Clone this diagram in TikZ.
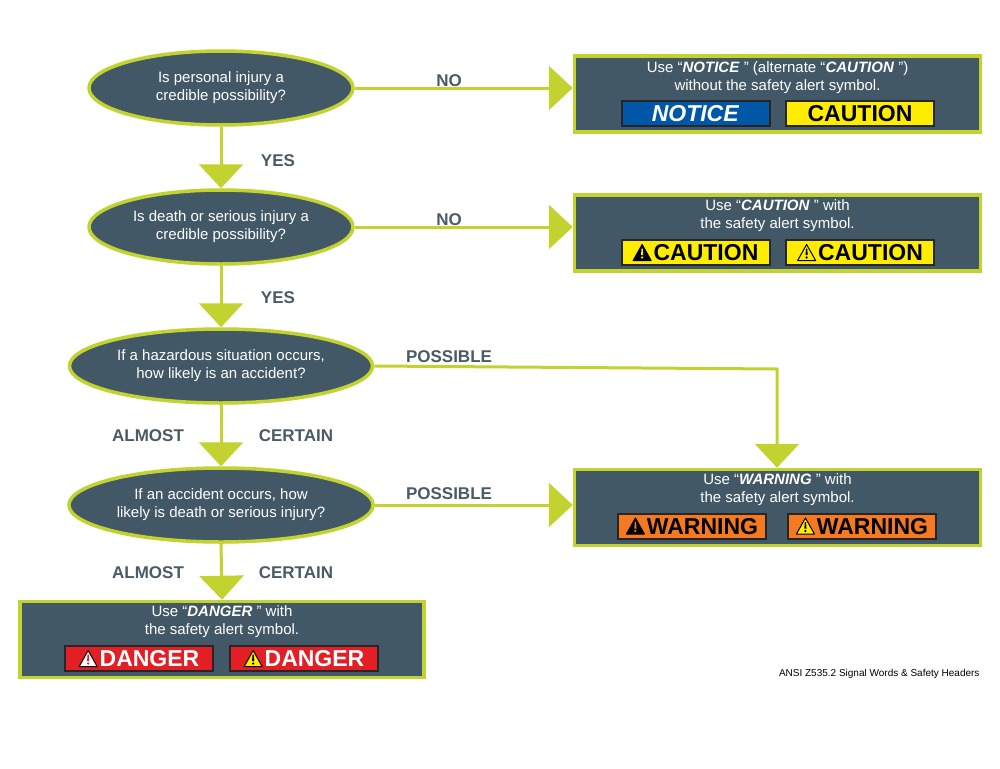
\documentclass[tikz,border=0pt]{standalone}
\usepackage{fontspec}
\setmainfont{Liberation Sans}
\usetikzlibrary{arrows.meta,shapes.geometric}
\definecolor{slate}{HTML}{425866}
\definecolor{lime}{HTML}{C2D22E}
\definecolor{labelgray}{HTML}{4A5B66}
\definecolor{noticeblue}{HTML}{0057A8}
\definecolor{cautionyellow}{HTML}{FFED00}
\definecolor{warnorange}{HTML}{F47920}
\definecolor{dangerred}{HTML}{E31E24}
\newcommand\alertsym[3]{\tikz[baseline=0pt]{\filldraw[fill=#1,draw=#2,line width=1pt,line join=round] (0pt,0pt)--(18pt,0pt)--(9pt,16pt)--cycle;
  \fill[#3] (7.9pt,5.5pt)--(10.1pt,5.5pt)--(9.6pt,12pt)--(8.4pt,12pt)--cycle;
  \fill[#3] (9pt,3pt) circle (1.3pt);}\kern2pt}
\tikzset{
  question/.style={ellipse,draw=lime,line width=3.5pt,fill=slate,text=white,minimum width=264,minimum height=74,align=center,font=\fontsize{15}{18}\selectfont},
  outcome/.style={rectangle,draw=lime,line width=3.5pt,fill=slate,minimum height=76},
  intext/.style={text=white,align=center,font=\fontsize{15}{18}\selectfont},
  sig/.style={rectangle,draw=black!85,line width=2pt,minimum width=148,minimum height=25,inner sep=0pt,font=\fontsize{23}{24}\selectfont\bfseries},
  flow/.style={lime,line width=3pt,-{Triangle[length=24pt,width=44pt]}},
  answer/.style={text=labelgray,font=\fontsize{17}{20}\selectfont\bfseries}
}
\begin{document}
\begin{tikzpicture}[x=1pt,y=-1pt]
  \useasboundingbox[fill=white] (0,0) rectangle (1000,768);
  % questions
  \node[question] (q1) at (221,88) {Is personal injury a\\credible possibility?};
  \node[question] (q2) at (221,227) {Is death or serious injury a\\credible possibility?};
  \node[question] (q3) at (221,366) {If a hazardous situation occurs,\\how likely is an accident?};
  \node[question] (q4) at (221,505) {If an accident occurs, how\\likely is death or serious injury?};
  % outcome boxes
  \node[outcome,minimum width=406] (notice) at (777.5,94) {};
  \node[outcome,minimum width=406] (caution) at (777.5,233) {};
  \node[outcome,minimum width=406] (warning) at (777.5,507.5) {};
  \node[outcome,minimum width=404] (danger) at (222,639.5) {};
  \node[intext] at (777.5,78) {Use “\textbf{\textit{NOTICE}} ” (alternate “\textbf{\textit{CAUTION}} ”)\\without the safety alert symbol.};
  \node[intext] at (777.5,216) {Use “\textbf{\textit{CAUTION}} ” with\\the safety alert symbol.};
  \node[intext] at (777.5,490) {Use “\textbf{\textit{WARNING}} ” with\\the safety alert symbol.};
  \node[intext] at (222,622) {Use “\textbf{\textit{DANGER}} ” with\\the safety alert symbol.};
  % signal headers
  \node[sig,fill=noticeblue,text=white] (n1) at (695.5,113.5) {\textit{NOTICE}};
  \node[sig,fill=cautionyellow,text=black] (c0) at (860,113.5) {CAUTION};
  \node[sig,fill=cautionyellow,text=black] (c1) at (695.5,252.5) {\alertsym{black}{black}{cautionyellow}CAUTION};
  \node[sig,fill=cautionyellow,text=black] (c2) at (860,252.5) {\alertsym{cautionyellow}{black}{black}CAUTION};
  \node[sig,fill=warnorange,text=black] (w1) at (692,526) {\alertsym{black}{black}{warnorange}WARNING};
  \node[sig,fill=warnorange,text=black] (w2) at (862,526) {\alertsym{cautionyellow}{black}{black}WARNING};
  \node[sig,fill=dangerred,text=white] (d1) at (139,658.5) {\alertsym{white}{black}{dangerred}DANGER};
  \node[sig,fill=dangerred,text=white] (d2) at (304,658.5) {\alertsym{cautionyellow}{black}{black}DANGER};
  % connectors
  \coordinate (p3) at (777,369);
  \draw[flow] (q1.east) -- (q1.east -| notice.west);
  \draw[flow] (q2.east) -- (q2.east -| caution.west);
  \draw[flow] (q3.east) -- (p3) -- (warning.north -| p3);
  \draw[flow] (q4.east) -- (q4.east -| warning.west);
  \draw[flow] (q1.south) -- (q2.north);
  \draw[flow] (q2.south) -- (q3.north);
  \draw[flow] (q3.south) -- (q4.north);
  \draw[flow] (q4.south) -- (danger.north);
  % answers
  \node[answer] at (449,81) {NO};
  \node[answer] at (449,220) {NO};
  \node[answer] at (449,357) {POSSIBLE};
  \node[answer] at (449,494) {POSSIBLE};
  \node[answer] at (278,161) {YES};
  \node[answer] at (278,298) {YES};
  \node[answer] at (148,436) {ALMOST};
  \node[answer] at (296,436) {CERTAIN};
  \node[answer] at (148,573) {ALMOST};
  \node[answer] at (296,573) {CERTAIN};
  \node[anchor=east,font=\fontsize{10}{12}\selectfont] at (983,674) {ANSI Z535.2 Signal Words \& Safety Headers};
\end{tikzpicture}
\end{document}
